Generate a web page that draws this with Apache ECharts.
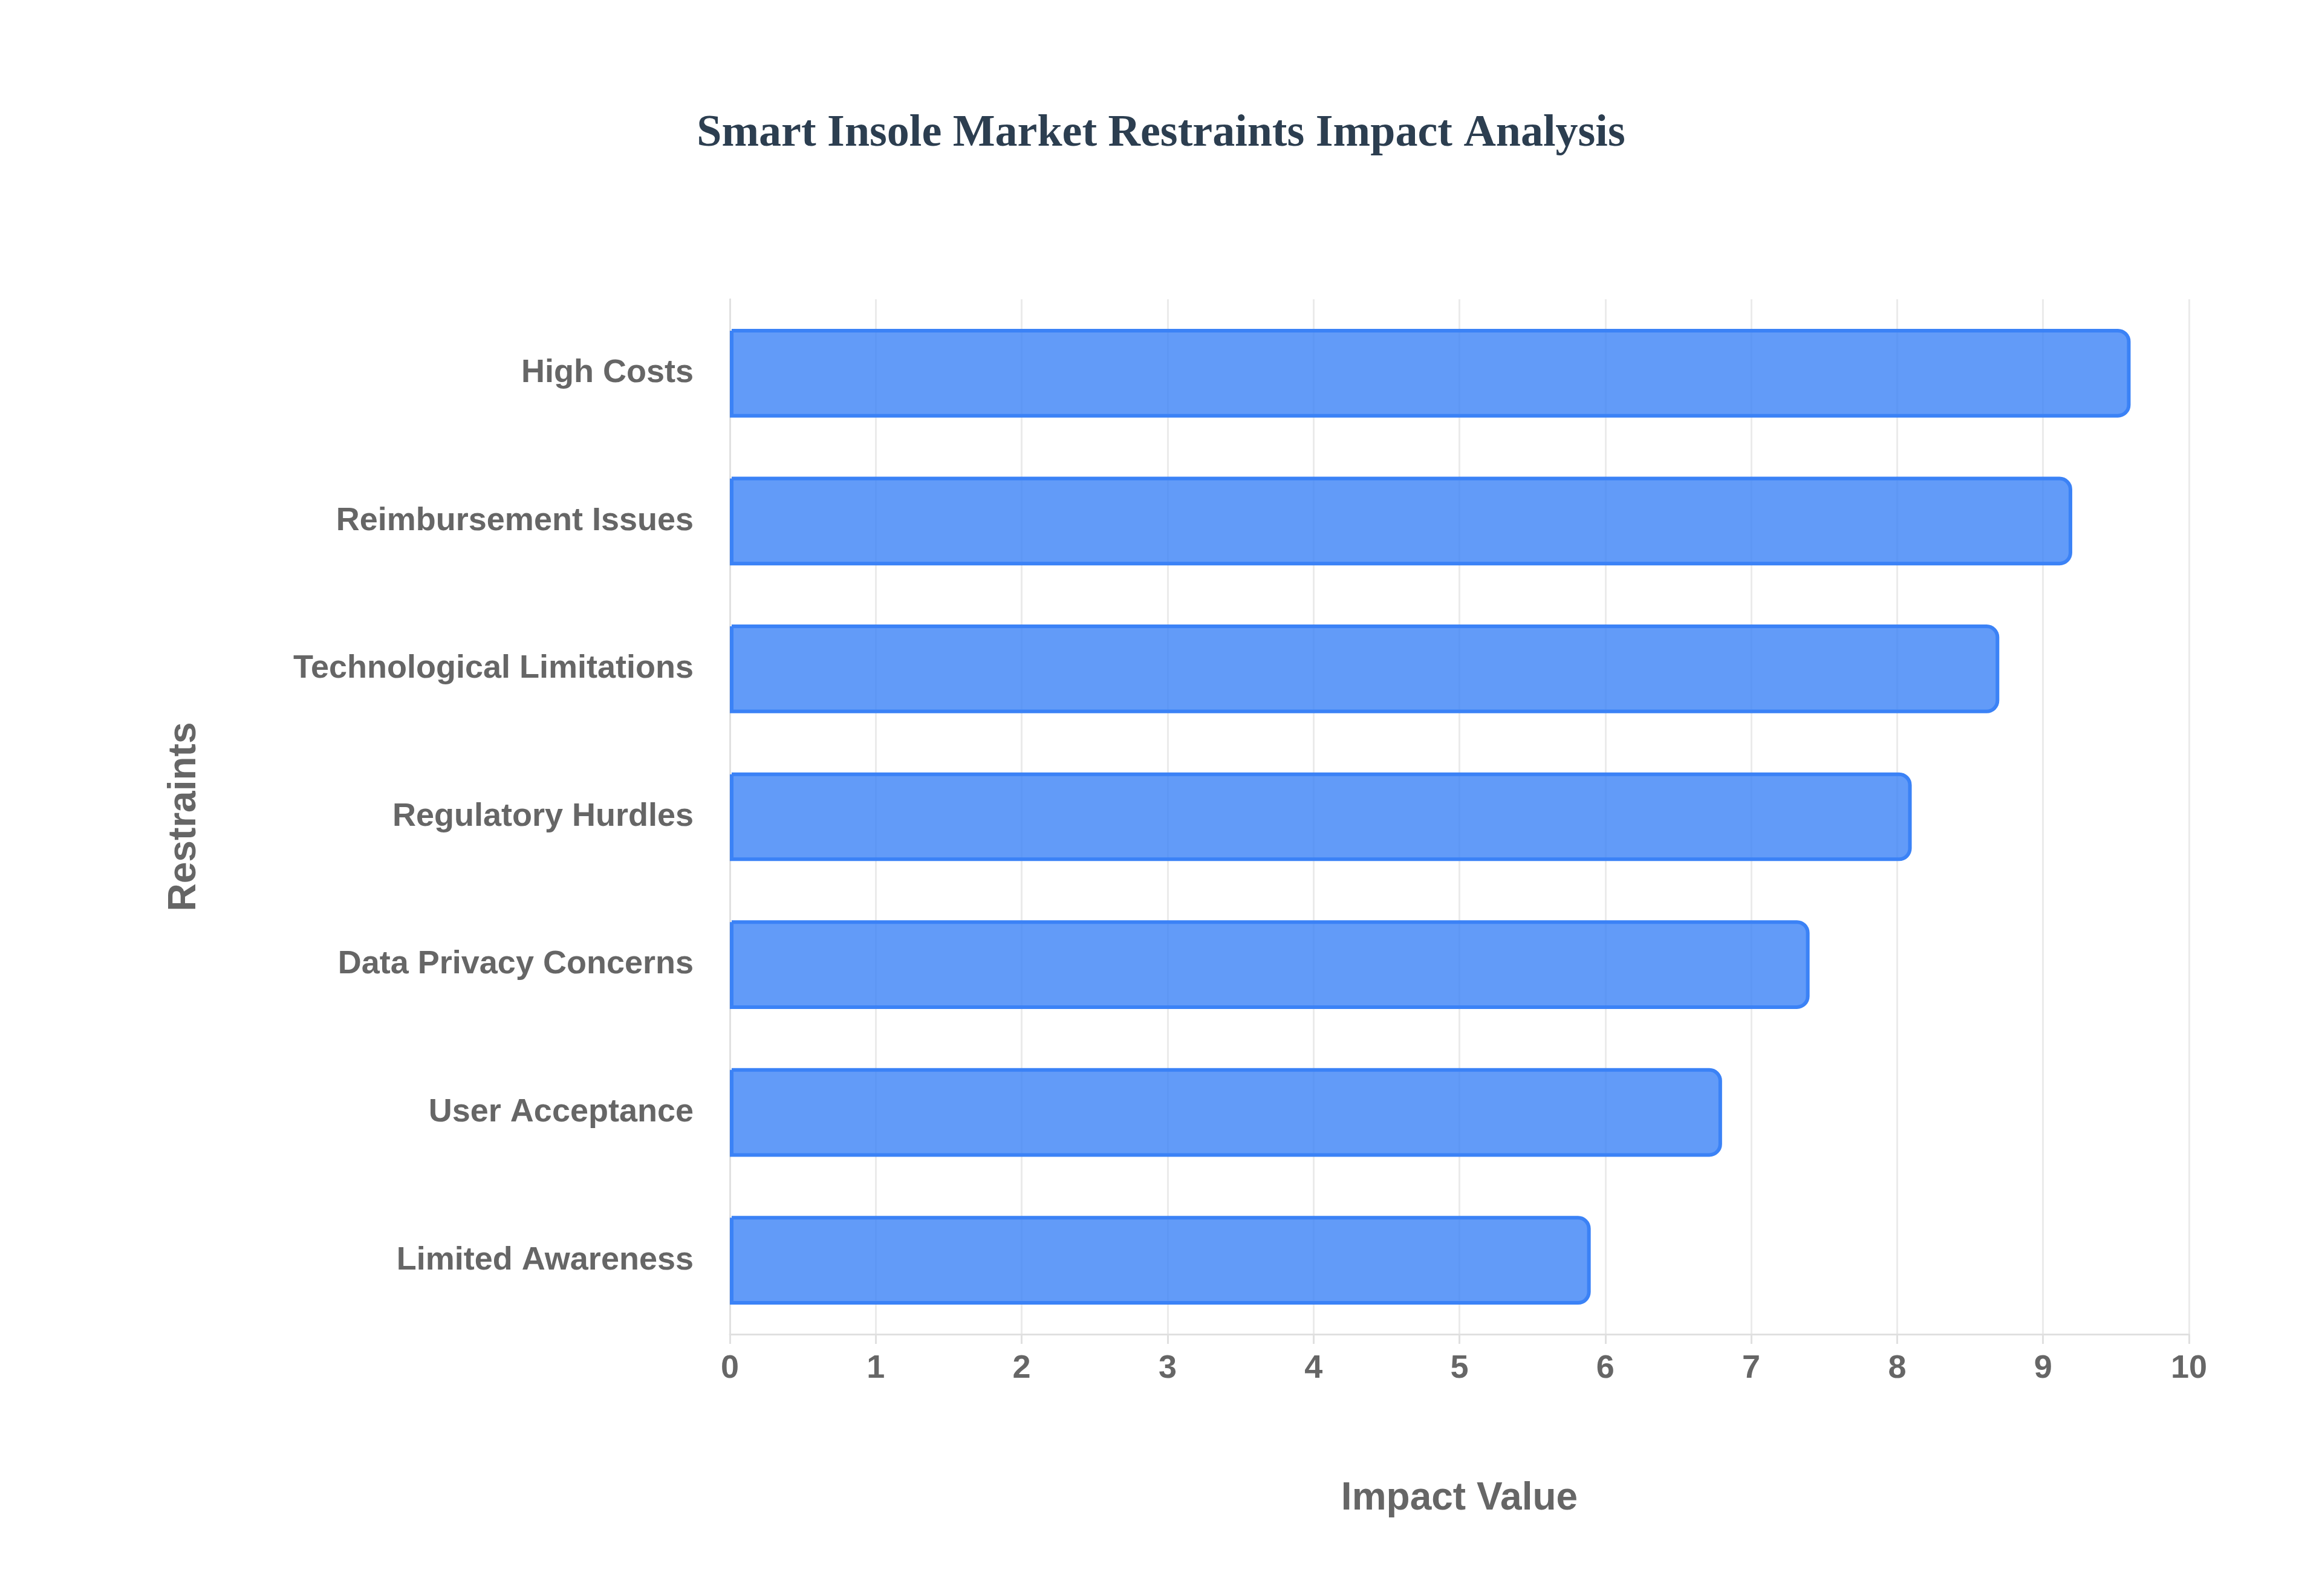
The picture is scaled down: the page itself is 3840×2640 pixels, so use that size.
<!DOCTYPE html>
<html lang="en">
<head>
    <meta charset="UTF-8">
    <title>Smart Insole Market Restraints</title>
    <script src="https://cdn.jsdelivr.net/npm/echarts@6/dist/echarts.min.js"></script>
</head>
<body style="margin:0;background:#fff;">
    <div id="main" style="width:3840px;height:2640px;"></div>
    <script type="text/javascript">
        // data, top to bottom as drawn
        var restraints = ['High Costs', 'Reimbursement Issues', 'Technological Limitations',
            'Regulatory Hurdles', 'Data Privacy Concerns', 'User Acceptance', 'Limited Awareness'];
        var impactValues = [9.6, 9.2, 8.7, 8.1, 7.4, 6.8, 5.9];

        var myChart = echarts.init(document.getElementById('main'));

        var labelFont = 'Liberation Sans, Arial, sans-serif';

        var option = {
            backgroundColor: '#ffffff',
            title: {
                text: 'Smart Insole Market Restraints Impact Analysis',
                left: 'center',
                top: 180,
                textStyle: {
                    fontFamily: 'Liberation Serif, Times New Roman, serif',
                    fontWeight: 'bold',
                    fontSize: 74,
                    color: '#2c3e50'
                }
            },
            grid: { left: 1207, right: 220, top: 495, bottom: 433 },
            xAxis: {
                type: 'value',
                min: 0,
                max: 10,
                interval: 1,
                name: 'Impact Value',
                nameLocation: 'middle',
                nameGap: 240,
                nameTextStyle: { fontFamily: labelFont, fontWeight: 'bold', fontSize: 64, color: '#666' },
                axisLine: { show: true, lineStyle: { color: '#e0e0e0', width: 3 } },
                axisTick: { show: true, length: 16, lineStyle: { color: '#e0e0e0', width: 3 } },
                axisLabel: { fontFamily: labelFont, fontWeight: 'bold', fontSize: 54, color: '#666', margin: 30 },
                splitLine: { show: true, lineStyle: { color: '#ebebeb', width: 3 } }
            },
            yAxis: {
                type: 'category',
                inverse: true,
                data: restraints,
                name: 'Restraints',
                nameLocation: 'middle',
                nameGap: 870,
                nameTextStyle: { fontFamily: labelFont, fontWeight: 'bold', fontSize: 64, color: '#666' },
                axisLine: { show: true, lineStyle: { color: '#e0e0e0', width: 3 } },
                axisTick: { show: false },
                axisLabel: { fontFamily: labelFont, fontWeight: 'bold', fontSize: 54, color: '#666', margin: 60 },
                splitLine: { show: false }
            },
            series: [{
                type: 'bar',
                data: impactValues,
                barWidth: '60%',
                itemStyle: {
                    color: 'rgba(59,130,246,0.8)',
                    borderColor: '#3b82f6',
                    borderWidth: 6,
                    borderRadius: [0, 18, 18, 0]
                }
            }]
        };

        myChart.setOption(option);
    </script>
</body>
</html>
